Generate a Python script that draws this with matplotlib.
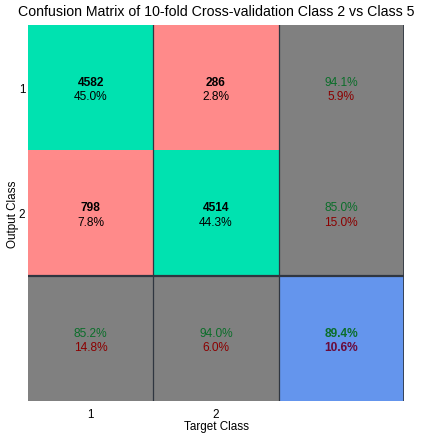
import numpy as np
import matplotlib
matplotlib.use('Agg')
import matplotlib.pyplot as plt
from matplotlib.colors import ListedColormap

plt.rcParams['font.family'] = ['Liberation Sans', 'DejaVu Sans']

# ── data ─────────────────────────────────────────────────────────────────────
classes = ['1', '2']
counts = np.array([[4582, 286],
                   [798, 4514]])
cell_pct = np.array([[45.0, 2.8],
                     [7.8, 44.3]])
row_correct = [94.1, 85.0]     # right column (per output class)
row_wrong = [5.9, 15.0]
col_correct = [85.2, 94.0]     # bottom row (per target class)
col_wrong = [14.8, 6.0]
total_correct = 89.4
total_wrong = 10.6

# ── colours ──────────────────────────────────────────────────────────────────
C_GOOD = '#00E2B0'
C_BAD = '#FF8A8A'
C_SUM = '#808080'
C_TOT = '#6495ED'
T_GREEN = '#0B6E2A'
T_RED = '#8B0000'
LINE = '#2F3640'

# 0=good, 1=bad, 2=summary, 3=total
n = len(classes)
kind = np.full((n + 1, n + 1), 2)
for i in range(n):
    for j in range(n):
        kind[i, j] = 0 if i == j else 1
kind[n, n] = 3
cmap = ListedColormap([C_GOOD, C_BAD, C_SUM, C_TOT])

fig = plt.figure(figsize=(4.23, 4.35), dpi=100)
ax = fig.add_axes([28 / 423, 33 / 435, 376 / 423, 376 / 435])
ax.imshow(kind, cmap=cmap, vmin=-0.5, vmax=3.5, aspect='auto',
          interpolation='nearest')

# cell texts
dy = 0.056
off = 0.012
fs = 8.6
for i in range(n):
    for j in range(n):
        ax.text(j, i + off - dy, f'{counts[i, j]}', ha='center', va='center',
                fontsize=fs, fontweight='bold', color='black')
        ax.text(j, i + off + dy, f'{cell_pct[i, j]:.1f}%', ha='center',
                va='center', fontsize=fs, color='black')
    ax.text(n, i + off - dy, f'{row_correct[i]:.1f}%', ha='center',
            va='center', fontsize=fs, color=T_GREEN)
    ax.text(n, i + off + dy, f'{row_wrong[i]:.1f}%', ha='center',
            va='center', fontsize=fs, color=T_RED)
for j in range(n):
    ax.text(j, n + off - dy, f'{col_correct[j]:.1f}%', ha='center',
            va='center', fontsize=fs, color=T_GREEN)
    ax.text(j, n + off + dy, f'{col_wrong[j]:.1f}%', ha='center',
            va='center', fontsize=fs, color=T_RED)
ax.text(n, n + off - dy, f'{total_correct:.1f}%', ha='center', va='center',
        fontsize=fs, fontweight='bold', color=T_GREEN)
ax.text(n, n + off + dy, f'{total_wrong:.1f}%', ha='center', va='center',
        fontsize=fs, fontweight='bold', color='#6A0A3A')

# separators
for x in np.arange(0.5, n + 0.5, 1.0):
    ax.axvline(x, color=LINE, lw=0.9)
ax.axhline(n - 0.5, color=LINE, lw=1.6)
ax.axvline(n + 0.5, color=LINE, lw=1.2)

for s in ax.spines.values():
    s.set_visible(False)

ax.set_xticks(range(n))
ax.set_xticklabels(classes, fontsize=8.4)
ax.set_yticks(range(n))
ax.set_yticklabels(classes, fontsize=8.4)
ax.tick_params(axis='x', length=0, pad=5)
ax.tick_params(axis='y', length=0, pad=2)
ax.set_xlabel('Target Class', fontsize=8.4, labelpad=0)
ax.set_ylabel('Output Class', fontsize=8.4, labelpad=0)
ax.set_title('Confusion Matrix of 10-fold Cross-validation Class 2 vs Class 5',
             fontsize=10.2, pad=7)

fig.savefig('out.png', dpi=100, facecolor='white')
